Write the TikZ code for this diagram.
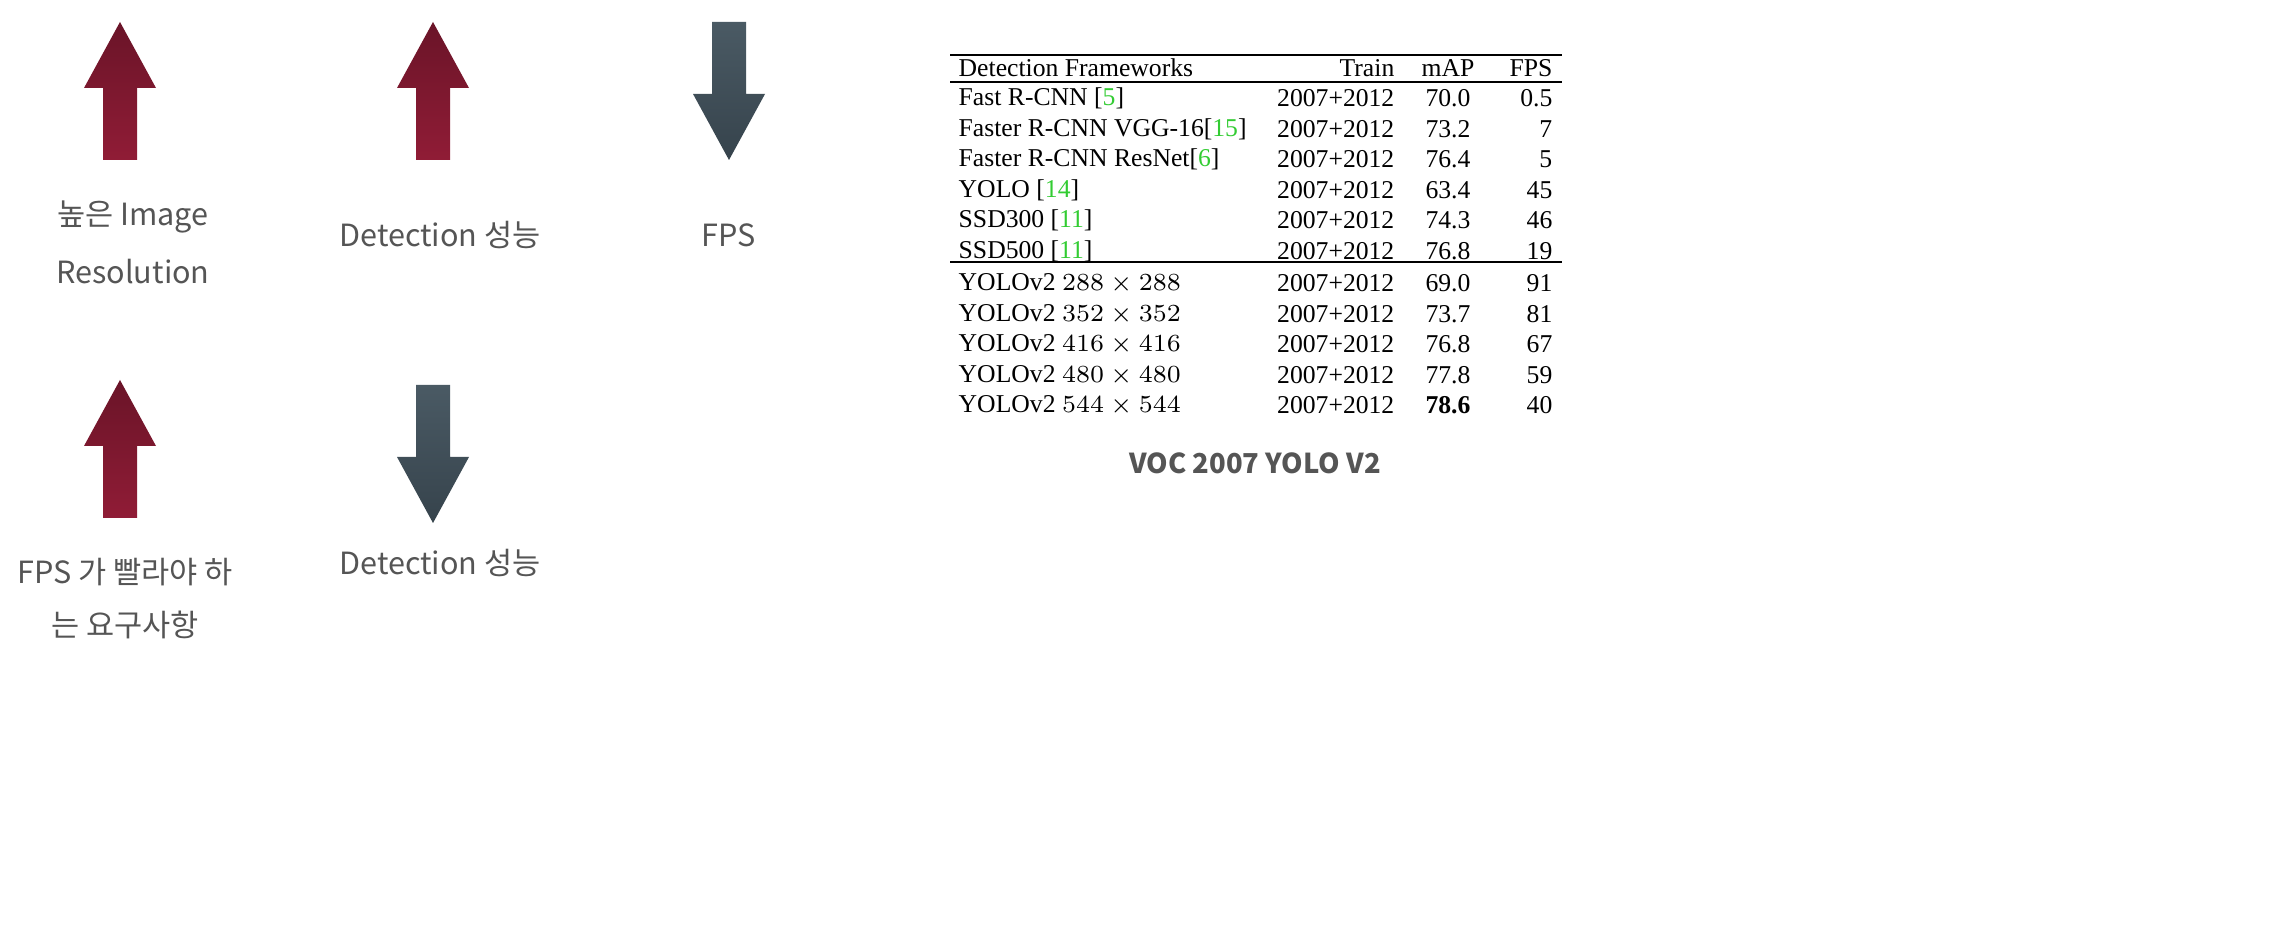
\documentclass[tikz,border=0pt]{standalone}
\usepackage{fontspec}
\setmainfont{Liberation Serif}
\newfontfamily\kofont{Noto Sans CJK KR}
\usepackage{xcolor}
\definecolor{redtop}{HTML}{6A1428}
\definecolor{redbot}{HTML}{901C36}
\definecolor{graytop}{HTML}{4A5A64}
\definecolor{graybot}{HTML}{36434C}
\definecolor{labgray}{HTML}{555555}
\definecolor{refgreen}{HTML}{33CC33}
\newcommand{\cit}[1]{[\textcolor{refgreen}{#1}]}
\begin{document}
\begin{tikzpicture}[
    x=1cm, y=1cm,
    label/.style ={font=\kofont\fontsize{8.7}{10}\selectfont, text=labgray, inner sep=0pt},
    cell/.style ={font=\fontsize{7.3}{9}\selectfont, inner sep=0pt},
    uparrow/.pic ={\shade[top color=redtop, bottom color=redbot]
        (-0.17,0) -- (-0.17,0.72) -- (-0.36,0.72) -- (0,1.38) -- (0.36,0.72) -- (0.17,0.72) -- (0.17,0) -- cycle;},
    downarrow/.pic ={\shade[top color=graytop, bottom color=graybot]
        (-0.17,1.38) -- (-0.17,0.66) -- (-0.36,0.66) -- (0,0) -- (0.36,0.66) -- (0.17,0.66) -- (0.17,1.38) -- cycle;},
    ]
    \useasboundingbox (0,0) rectangle (22.76,9.30);

    % arrows
    \pic at (1.20,7.70) {uparrow};
    \pic at (4.33,7.70) {uparrow};
    \pic at (7.29,7.70) {downarrow};
    \pic at (1.20,4.12) {uparrow};
    \pic at (4.33,4.07) {downarrow};

    % labels
    \node[label] (res1) at (1.33,7.13) {높은 Image};
    \node[label] (res2) at (1.33,6.58) {Resolution};
    \node[label] (det1) at (4.40,6.95) {Detection 성능};
    \node[label] (fps1) at (7.29,6.95) {FPS};
    \node[label] (req1) at (1.25,3.58) {FPS 가 빨라야 하};
    \node[label] (req2) at (1.25,3.05) {는 요구사항};
    \node[label] (det2) at (4.40,3.67) {Detection 성능};

    % table
    \draw[line width=0.8pt] (9.50,8.75) -- (15.62,8.75);
    \draw[line width=0.5pt] (9.50,8.48) -- (15.62,8.48);
    \draw[line width=0.5pt] (9.50,6.68) -- (15.62,6.68);
    \node[cell, anchor=west] (h1) at (9.58,8.62) {Detection Frameworks};
    \node[cell, anchor=east] (h2) at (13.95,8.62) {Train};
    \node[cell] (h3) at (14.48,8.62) {mAP};
    \node[cell, anchor=east] (h4) at (15.53,8.62) {FPS};
    \foreach \nm/\mp/\fp [count=\i] in {
        {Fast R-CNN \cit{5}}/70.0/0.5,
        {Faster R-CNN VGG-16\cit{15}}/73.2/7,
        {Faster R-CNN ResNet\cit{6}}/76.4/5,
        {YOLO \cit{14}}/63.4/45,
        {SSD300 \cit{11}}/74.3/46,
        {SSD500 \cit{11}}/76.8/19,
        {YOLOv2 $288\times288$}/69.0/91,
        {YOLOv2 $352\times352$}/73.7/81,
        {YOLOv2 $416\times416$}/76.8/67,
        {YOLOv2 $480\times480$}/77.8/59,
        {YOLOv2 $544\times544$}/\textbf{78.6}/40} {
        \pgfmathsetmacro{\yy}{8.62-0.305*\i-(\i>6)*0.02}
        \node[cell, anchor=west] (n\i) at (9.58,\yy) {\nm};
        \node[cell, anchor=east] (t\i) at (13.95,\yy) {2007+2012};
        \node[cell] (m\i) at (14.48,\yy) {\mp};
        \node[cell, anchor=east] (f\i) at (15.53,\yy) {\fp};
    }
    \node[label, font=\kofont\bfseries\fontsize{7.8}{10}\selectfont] (cap) at (12.55,4.67) {VOC 2007 YOLO V2};
\end{tikzpicture}
\end{document}
